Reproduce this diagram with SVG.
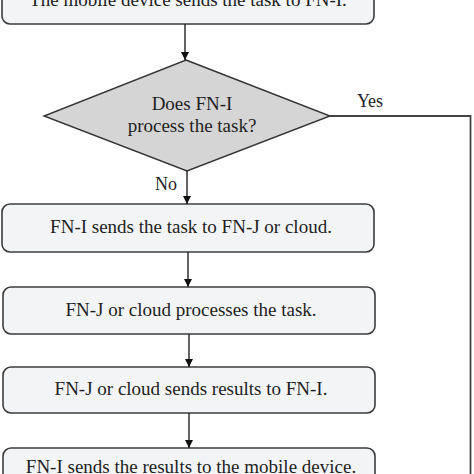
<svg xmlns="http://www.w3.org/2000/svg" width="474" height="474" viewBox="0 0 474 474">
<style>
.box{fill:#f3f4f6;stroke:#3c3c3c;stroke-width:1.6}
.dia{fill:#d5d5d5;stroke:#333;stroke-width:1.4}
.t{font-family:"Liberation Serif",serif;font-size:19px;fill:#1e1e1e;text-anchor:middle}
.s{font-size:18px}
.c{fill:none;stroke:#222;stroke-width:1.4}
</style>
<defs>
<marker id="ah" viewBox="0 0 10 10" refX="10" refY="5" markerWidth="8" markerHeight="8" markerUnits="userSpaceOnUse" orient="auto">
<path d="M0,0 L10,5 L0,10 z" fill="#111"/>
</marker>
</defs>
<rect x="0" y="0" width="474" height="474" fill="#fff"/>
<g id="n1"><rect class="box" x="2" y="-30" width="372" height="54" rx="8"/><text class="t" x="188" y="6">The mobile device sends the task to FN-I.</text></g>
<g id="n2"><polygon class="dia" points="186,60 330,116 187,171 44,116"/><text class="t" x="192" y="110">Does FN-I</text><text class="t" x="192" y="132">process the task?</text></g>
<g id="n3"><rect class="box" x="2" y="204" width="372" height="48" rx="8"/><text class="t" x="191" y="233">FN-I sends the task to FN-J or cloud.</text></g>
<g id="n4"><rect class="box" x="3" y="287" width="372" height="47" rx="8"/><text class="t" x="191" y="316">FN-J or cloud processes the task.</text></g>
<g id="n5"><rect class="box" x="3" y="367" width="372" height="46" rx="8"/><text class="t" x="191" y="395">FN-J or cloud sends results to FN-I.</text></g>
<g id="n6"><rect class="box" x="3" y="448" width="372" height="50" rx="8"/><text class="t" x="191" y="473">FN-I sends the results to the mobile device.</text></g>
<g id="connectors">
<line class="c" x1="185" y1="24" x2="185" y2="60" marker-end="url(#ah)"/>
<line class="c" x1="187" y1="171" x2="187" y2="204" marker-end="url(#ah)"/>
<line class="c" x1="188" y1="252" x2="188" y2="287" marker-end="url(#ah)"/>
<line class="c" x1="189" y1="334" x2="189" y2="367" marker-end="url(#ah)"/>
<line class="c" x1="189" y1="413" x2="189" y2="448" marker-end="url(#ah)"/>
<polyline class="c" points="330,116 470.5,116 470.5,474" style="stroke:#444;stroke-width:1.8"/>
<text class="t s" x="370" y="107">Yes</text>
<text class="t s" x="166" y="190">No</text>
</g>
</svg>
